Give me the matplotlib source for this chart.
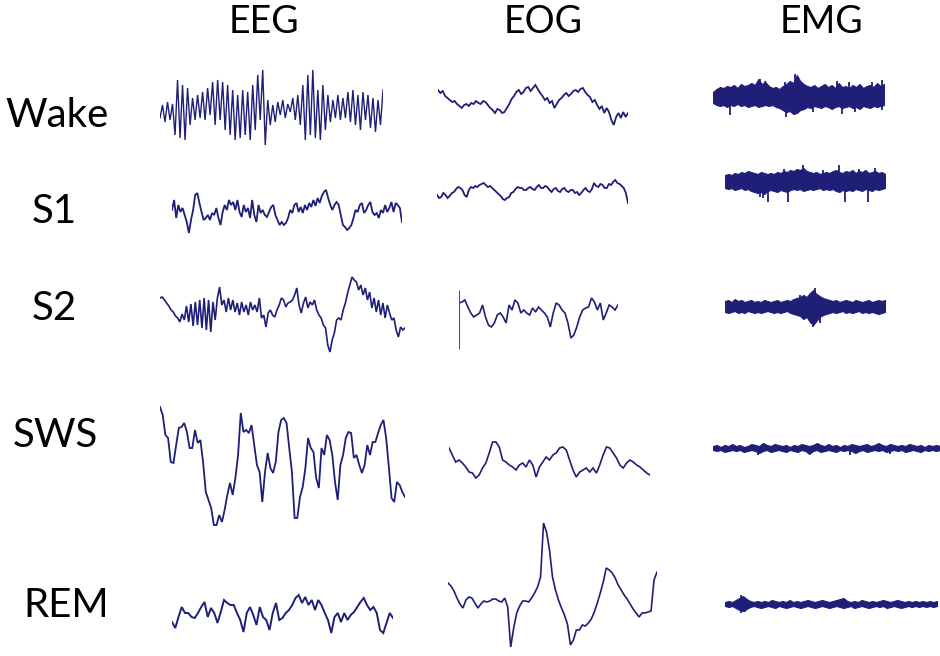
import numpy as np
import matplotlib
matplotlib.use("Agg")
import matplotlib.pyplot as plt

W, FH = 940, 656
INK = "#1f1f78"

columns = ["EEG", "EOG", "EMG"]
stages = ["Wake", "S1", "S2", "SWS", "REM"]

# ---- signal amplitudes (pixel-scale units, up positive) ----
wake_eeg = [-8, 5, -12, 8, -10, 6,
            -25, 30, -28, 25, -30, 22, -15, 12,
            -10, 15, -8, 18, -10, 22, -5, 28,
            -15, 30, -10, 28, -20, 25, -25, 20,
            -30, 15, -28, 20, -25, 18, -30, 25, -20, 35, -10, 40, -35, 10,
            -15, 5, -12, 8, -5, 10, -8, 6, -2, 12,
            -10, 15, -15, 25, -30, 35, -25, 40, -28, 20, -30, 25, -20, 15,
            -12, 10, -8, 15, -10, 12,
            -8, 18, -12, 20, -15, 15, -20, 18, -10, 15, -18, 12, -22, 10, -15, 20]
wake_eog = [15, 12, 14, 9, 7, 5, 3, 4, 1, -1, -3, 0, 1, -1, 2, 1, 4, 2, 1, 4, 3, 0, -3, -5,
            -8, -4, -5, -8, -7, -3, 1, 6, 9, 13, 15, 11, 13, 17, 18, 14, 17, 20, 16, 12, 9, 5,
            7, 2, 4, -3, 1, 5, 7, 10, 12, 9, 11, 14, 15, 13, 16, 17, 13, 10, 8, 3, 5, 0, -4, -1,
            -8, -3, -7, -15, -20, -12, -8, -13, -7, -12, -8]
s1_eeg = [0, 10, -8, 5, -2, 2, -5, -12, -23, -10, 0, 15, 17, 7, -2, -10, -8, -5, -10, -3, -5, 2,
          -8, -15, -2, 5, 0, 10, 5, 8, 0, 10, -2, -7, 5, -2, 2, -8, 10, -5, -12, 5, -3, 0, -5, -7,
          -2, 3, 5, -5, -10, -15, -12, -15, -13, -8, 0, -3, 5, 7, -2, 3, -3, 5, 0, 7, 3, 10, 4, 12,
          7, 14, 18, 20, 12, 5, 0, 5, 8, 5, -5, -15, -17, -20, -18, -15, -8, 0, -2, 5, 7, -3, 0, 5,
          8, -2, -5, -3, -8, 0, -3, 5, -2, 2, 8, -2, 7, 5, 2, -12]
s1_eog = [-5, -8, -7, -3, -5, -8, -6, -3, -2, 1, 3, 2, 0, -5, -7, 0, 3, 2, 4, 3, 5, 6, 7, 5, 3, 4,
          2, 0, -2, -4, -6, -9, -10, -8, -7, -3, -2, 1, 3, 2, 2, 0, 0, 2, 3, 1, 0, 3, 5, 2, 2, 4, 3,
          0, -2, 1, 2, -1, -2, 1, 2, -1, -2, 0, 0, -3, -2, -5, -3, 0, 2, -1, -2, 1, 7, 4, 3, 6, 5, 2,
          2, 6, 5, 8, 10, 7, 6, 4, 2, -3, -13]
s2_eeg = [12, 13, 10, 7, 4, 0, -2, -6, -8, -12, -4, -10, 4, -12, 6, -16, 8, -15, 10, -18, 12, -20,
          10, -22, 8, -10, 12, 23, 5, 10, -2, 12, 0, 10, -2, 7, -5, 8, -2, 5, -5, 8, 0, 5, -2, 12,
          -8, -5, -17, -3, 0, -5, -7, 0, 5, 12, 10, 3, 7, 8, 10, 15, 22, 5, -3, 7, 13, 2, 8, 5, 10,
          0, -5, -8, -15, -18, -35, -42, -30, -23, -10, -8, -10, 0, 7, 17, 25, 33, 30, 28, 20, 25,
          15, 22, 10, 18, 2, 12, -2, 10, -5, 7, -8, 5, -3, -10, -8, -20, -27, -17, -20, -18]
s2_eog = [9, 10, 12, 5, -1, -5, -3, -1, 7, -5, -13, -15, -11, -3, -1, -5, -11, 7, 2, 12, 9, -1, 2,
          -1, -3, 4, 0, 5, 2, -1, -5, -15, -1, 9, 7, 2, -1, -11, -26, -23, -15, -5, 2, 4, 5, 14, 10,
          2, 9, -8, -1, 7, 5, 2, 7]
s2_eog_marker = [22, -37]
sws_eeg = [58, 50, 30, 27, 3, 2, 20, 37, 38, 42, 33, 17, 17, 35, 22, 25, 3, -27, -35, -43, -60, -60,
           -50, -57, -45, -30, -18, -30, -13, 10, 52, 33, 35, 32, 40, 20, 0, -7, -37, -7, 12, -3,
           -8, 3, 33, 45, 47, 42, 17, -7, -53, -53, -32, -22, -3, 27, 17, 13, -13, -23, 17, 10, 30,
           25, 10, -17, -35, 0, 10, 27, 33, 32, 7, 10, 0, -8, 0, 20, 10, 23, 23, 32, 40, 45, 27, -2,
           -33, -37, -17, -20, -27, -32]
sws_eog = [14, 7, 0, 2, -1, -5, -10, -11, -16, -13, -6, -1, 9, 20, 20, 15, 2, 0, -3, -5, -8, -3,
           -1, -5, 2, -3, -15, -5, 0, 5, 2, 7, 9, 14, 15, 12, 2, -8, -15, -10, -8, -6, -10, -6, -11,
           -3, 7, 15, 14, 9, 4, -3, -6, -1, 2, 0, -3, -5, -8, -11, -13]
rem_eeg = [-7, -13, -2, 8, 2, 2, -2, -3, 2, 8, 13, -2, 7, 2, -8, 3, 15, 12, 10, 10, 2, -5, -17, 2,
           8, 0, -10, 8, -2, -5, -15, 2, 12, -5, -3, 2, 5, 10, 17, 20, 12, 18, 10, 15, 5, 15, 10, 2,
           -5, -18, -2, 2, -7, 2, -5, 0, 3, 8, 13, 17, 10, 5, 8, 2, -15, -18, -8, 2, -3]
rem_eog = [17, 14, 9, 2, -4, -8, 0, 3, 2, -3, -8, -4, -1, -2, -1, 1, 1, -1, -2, 2, -7, -47, -28,
           -13, -6, -1, -1, -2, 2, 7, 13, 23, 77, 68, 50, 23, 10, 0, -8, -15, -24, -45, -40, -30,
           -30, -25, -26, -23, -19, -12, -3, 7, 18, 32, 30, 27, 22, 15, 10, 5, 1, -4, -9, -13, -17,
           -13, -13, -12, -11, 20, 28]

# EMG: upper / lower envelope of the dense band, plus isolated spikes (sample index, amplitude)
wake_emg_hi = [5, 8, 10, 9, 11, 10, 12, 9, 13, 11, 12, 14, 12, 18, 13, 15, 11, 9, 10, 8, 11, 13, 16,
               14, 22, 16, 13, 11, 10, 12, 9, 11, 13, 10, 12, 9, 14, 10, 11, 9, 12, 10, 13, 9, 11,
               12, 10, 14, 11, 13]
wake_emg_lo = [-6, -8, -9, -8, -10, -8, -9, -7, -9, -8, -10, -9, -8, -10, -9, -8, -9, -8, -10, -11,
               -13, -15, -14, -17, -16, -13, -12, -10, -11, -9, -10, -11, -9, -10, -12, -10, -9,
               -11, -10, -9, -11, -10, -12, -9, -10, -11, -9, -10, -9, -8]
wake_emg_spk_t = [5, 13.5, 15, 20.6, 21, 23.5, 28.6, 35.5, 37, 39, 40.7, 45.5, 48.4, 48.4]
wake_emg_spk_a = [-18, 18, 16, 15, -20, 23, -15, 16, -17, 15, -15, 15, 17, -13]

s1_emg_hi = [7, 8, 7, 9, 8, 10, 9, 11, 10, 9, 8, 10, 9, 8, 9, 8, 10, 9, 11, 10, 12, 11, 13, 12, 14,
             11, 10, 9, 10, 8, 9, 10, 9, 11, 12, 10, 9, 11, 10, 12, 9, 11, 10, 12, 9, 10, 11, 9,
             10, 8]
s1_emg_lo = [-6, -7, -6, -8, -7, -6, -8, -7, -9, -10, -11, -10, -12, -9, -8, -9, -10, -8, -9, -10,
             -8, -7, -8, -7, -9, -8, -7, -8, -7, -6, -8, -7, -8, -7, -9, -10, -8, -9, -8, -9, -7,
             -8, -9, -7, -8, -9, -7, -8, -7, -6]
s1_emg_spk_t = [24, 35, 18, 30, 41, 46, 10.7, 11.6, 13.2, 19.3, 36.8, 43.8]
s1_emg_spk_a = [17, 17, 13, 12, 13, 14, -15, -16, -20, -20, -20, -20]

s2_emg_hi = [6, 7, 5, 8, 6, 7, 5, 6, 7, 5, 6, 5, 7, 6, 5, 6, 7, 5, 6, 7, 6, 8, 9, 10, 12, 10, 14, 17,
             13, 11, 9, 8, 7, 6, 7, 5, 6, 7, 6, 5, 7, 6, 5, 6, 7, 5, 6, 7, 6, 7]
s2_emg_lo = [-5, -6, -5, -4, -6, -5, -6, -4, -5, -6, -5, -6, -5, -4, -5, -6, -5, -6, -5, -4, -6, -7,
             -8, -9, -12, -10, -15, -18, -14, -10, -8, -7, -6, -5, -6, -5, -4, -6, -5, -6, -5, -4,
             -6, -5, -6, -5, -6, -7, -6, -5]
s2_emg_spk_t = [23, 27.5, 27, 29]
s2_emg_spk_a = [12, 19, -20, -16]

sws_emg_hi = [2, 3, 1, 3, 2, 4, 2, 3, 1, 2, 4, 3, 2, 5, 3, 2, 4, 3, 2, 3, 1, 3, 2, 4, 3, 2, 3, 5, 3,
              2, 4, 2, 3, 1, 3, 2, 4, 3, 2, 3, 4, 2, 3, 5, 3, 2, 4, 3, 2, 3, 2, 4, 3, 2, 3, 1, 3, 2,
              3, 2]
sws_emg_lo = [-2, -3, -2, -4, -3, -2, -3, -2, -4, -3, -2, -3, -5, -3, -2, -4, -3, -2, -3, -4, -2,
              -3, -4, -2, -3, -6, -3, -2, -4, -3, -2, -3, -4, -2, -3, -2, -3, -5, -3, -2, -4, -3,
              -2, -3, -2, -4, -3, -2, -3, -2, -4, -3, -2, -3, -4, -2, -3, -2, -3, -2]
sws_emg_spk_t = [11.7, 35.6, 46]
sws_emg_spk_a = [-7, -7, -6]

rem_emg_hi = [2, 3, 2, 4, 6, 8, 5, 3, 2, 3, 2, 3, 2, 4, 3, 2, 3, 2, 4, 2, 3, 2, 3, 4, 3, 2, 3, 4, 3,
              2, 3, 4, 5, 6, 3, 2, 3, 2, 4, 3, 2, 3, 2, 3, 4, 3, 2, 3, 4, 3, 2, 3, 2, 3, 2, 3, 2, 3,
              2, 3]
rem_emg_lo = [-2, -3, -2, -4, -6, -7, -5, -3, -2, -3, -4, -3, -2, -3, -4, -2, -3, -4, -3, -2, -3,
              -4, -3, -2, -3, -4, -3, -2, -3, -4, -3, -2, -3, -4, -3, -2, -4, -3, -2, -3, -4, -3,
              -2, -3, -2, -4, -3, -2, -3, -4, -3, -2, -3, -2, -3, -2, -3, -2, -3, -2]
rem_emg_spk_t = [4.5, 4.5, 5.5]
rem_emg_spk_a = [9, -9, -8]

# ---- layout (pixel boxes: left, right, centre line) ----
fig = plt.figure(figsize=(W / 100, FH / 100), dpi=100)
fig.patch.set_facecolor("white")
H = 200


def trace_axes(x0, x1, yc):
    ax = fig.add_axes([x0 / W, (FH - yc - H / 2) / FH, (x1 - x0) / W, H / FH])
    ax.set_ylim(-H / 2, H / 2)
    ax.axis("off")
    ax.patch.set_alpha(0)
    return ax


def line_trace(vals, x0, x1, yc, lw=1.2):
    ax = trace_axes(x0, x1, yc)
    t = np.arange(len(vals))
    ax.plot(t, vals, color=INK, lw=lw, solid_joinstyle="miter")
    ax.set_xlim(0, len(vals) - 1)
    return ax


def emg_trace(hi, lo, spk_t, spk_a, x0, x1, yc):
    ax = trace_axes(x0, x1, yc)
    t = np.arange(len(hi))
    ax.fill_between(t, lo, hi, color=INK, lw=0.8, edgecolor=INK)
    ax.vlines(spk_t, 0, spk_a, color=INK, lw=1.3)
    ax.set_xlim(0, len(hi) - 1)
    return ax


line_trace(wake_eeg, 160, 383, 110, lw=1.0)
line_trace(wake_eog, 438, 628, 105, lw=1.3)
emg_trace(wake_emg_hi, wake_emg_lo, wake_emg_spk_t, wake_emg_spk_a, 713, 884, 97)

line_trace(s1_eeg, 172, 402, 210, lw=1.3)
line_trace(s1_eog, 437, 628, 190, lw=1.3)
emg_trace(s1_emg_hi, s1_emg_lo, s1_emg_spk_t, s1_emg_spk_a, 725, 885, 182)

ax = line_trace(s2_eeg, 160, 405, 310)
ax = line_trace(s2_eog, 459, 618, 312)
ax.vlines([0], s2_eog_marker[1], s2_eog_marker[0], color="#555555", lw=0.8)
emg_trace(s2_emg_hi, s2_emg_lo, s2_emg_spk_t, s2_emg_spk_a, 725, 885, 307)

line_trace(sws_eeg, 160, 405, 465, lw=1.3)
line_trace(sws_eog, 449, 650, 462)
emg_trace(sws_emg_hi, sws_emg_lo, sws_emg_spk_t, sws_emg_spk_a, 713, 940, 448)

line_trace(rem_eeg, 172, 393, 615, lw=1.4)
line_trace(rem_eog, 448, 657, 600)
emg_trace(rem_emg_hi, rem_emg_lo, rem_emg_spk_t, rem_emg_spk_a, 725, 937, 604)

# ---- text labels ----
FONT = ["Lato", "DejaVu Sans"]
header_x = [264, 543, 821]
for name, x in zip(columns, header_x):
    fig.text(x / W, 1 - 33 / FH, name, ha="center", va="baseline",
             fontsize=27, family=FONT, color="black")

label_pos = [(5, 127), (32, 223), (32, 320), (13, 447), (23, 617)]
for name, (x, y) in zip(stages, label_pos):
    fig.text(x / W, 1 - y / FH, name, ha="left", va="baseline",
             fontsize=29, family=FONT, color="black")

fig.savefig("out.png", dpi=100, facecolor="white")
